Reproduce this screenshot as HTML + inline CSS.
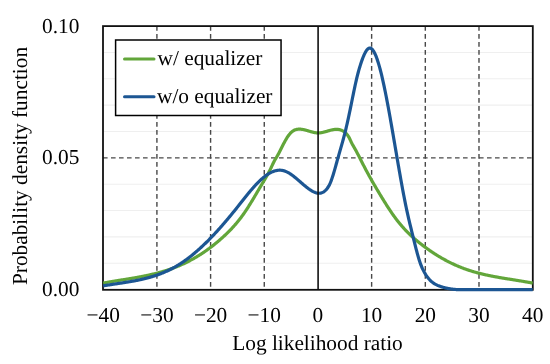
<!DOCTYPE html>
<html><head><meta charset="utf-8"><style>
html,body{margin:0;padding:0;background:#fff;}
body{width:550px;height:364px;overflow:hidden;}
svg{display:block;}
text{fill:#000;text-rendering:geometricPrecision;}
</style></head><body>
<svg width="550" height="364" viewBox="0 0 550 364"><line x1="103.0" y1="263.25" x2="532.8" y2="263.25" stroke="#efefef" stroke-width="1.1"/>
<line x1="103.0" y1="236.90" x2="532.8" y2="236.90" stroke="#efefef" stroke-width="1.1"/>
<line x1="103.0" y1="210.55" x2="532.8" y2="210.55" stroke="#efefef" stroke-width="1.1"/>
<line x1="103.0" y1="184.20" x2="532.8" y2="184.20" stroke="#efefef" stroke-width="1.1"/>
<line x1="103.0" y1="131.50" x2="532.8" y2="131.50" stroke="#efefef" stroke-width="1.1"/>
<line x1="103.0" y1="105.15" x2="532.8" y2="105.15" stroke="#efefef" stroke-width="1.1"/>
<line x1="103.0" y1="78.80" x2="532.8" y2="78.80" stroke="#efefef" stroke-width="1.1"/>
<line x1="103.0" y1="52.45" x2="532.8" y2="52.45" stroke="#efefef" stroke-width="1.1"/>
<line x1="156.91" y1="26.1" x2="156.91" y2="289.8" stroke="#484848" stroke-width="1.4" stroke-dasharray="4.6 3.4"/>
<line x1="210.59" y1="26.1" x2="210.59" y2="289.8" stroke="#484848" stroke-width="1.4" stroke-dasharray="4.6 3.4"/>
<line x1="264.27" y1="26.1" x2="264.27" y2="289.8" stroke="#484848" stroke-width="1.4" stroke-dasharray="4.6 3.4"/>
<line x1="371.63" y1="26.1" x2="371.63" y2="289.8" stroke="#484848" stroke-width="1.4" stroke-dasharray="4.6 3.4"/>
<line x1="425.31" y1="26.1" x2="425.31" y2="289.8" stroke="#484848" stroke-width="1.4" stroke-dasharray="4.6 3.4"/>
<line x1="478.99" y1="26.1" x2="478.99" y2="289.8" stroke="#484848" stroke-width="1.4" stroke-dasharray="4.6 3.4"/>
<line x1="103.0" y1="157.85" x2="532.8" y2="157.85" stroke="#484848" stroke-width="1.4" stroke-dasharray="4.6 3.4"/>
<rect x="103.0" y="26.1" width="429.80" height="263.70" fill="none" stroke="#111" stroke-width="1.8"/>
<path d="M103.2,283.10 L103.7,283.01 L104.2,282.92 L104.7,282.82 L105.2,282.73 L105.7,282.64 L106.2,282.55 L106.7,282.46 L107.2,282.37 L107.7,282.28 L108.2,282.19 L108.7,282.11 L109.2,282.02 L109.7,281.93 L110.2,281.85 L110.7,281.76 L111.2,281.68 L111.7,281.59 L112.2,281.51 L112.7,281.42 L113.2,281.34 L113.7,281.26 L114.2,281.17 L114.7,281.09 L115.2,281.01 L115.7,280.93 L116.2,280.84 L116.7,280.76 L117.2,280.68 L117.7,280.60 L118.2,280.52 L118.7,280.44 L119.2,280.36 L119.7,280.27 L120.2,280.19 L120.7,280.11 L121.2,280.03 L121.7,279.95 L122.2,279.87 L122.7,279.79 L123.2,279.71 L123.7,279.63 L124.2,279.55 L124.7,279.47 L125.2,279.39 L125.7,279.31 L126.2,279.23 L126.7,279.14 L127.2,279.06 L127.7,278.98 L128.2,278.90 L128.7,278.82 L129.2,278.73 L129.7,278.65 L130.2,278.57 L130.7,278.48 L131.2,278.40 L131.7,278.32 L132.2,278.23 L132.7,278.15 L133.2,278.06 L133.7,277.97 L134.2,277.89 L134.7,277.80 L135.2,277.71 L135.7,277.63 L136.2,277.54 L136.7,277.45 L137.2,277.36 L137.7,277.27 L138.2,277.18 L138.7,277.09 L139.2,276.99 L139.7,276.90 L140.2,276.81 L140.7,276.71 L141.2,276.62 L141.7,276.52 L142.2,276.43 L142.7,276.33 L143.2,276.23 L143.7,276.13 L144.2,276.03 L144.7,275.93 L145.2,275.83 L145.7,275.73 L146.2,275.62 L146.7,275.52 L147.2,275.41 L147.7,275.31 L148.2,275.20 L148.7,275.09 L149.2,274.98 L149.7,274.87 L150.2,274.76 L150.7,274.64 L151.2,274.53 L151.7,274.41 L152.2,274.30 L152.7,274.18 L153.2,274.06 L153.7,273.94 L154.2,273.82 L154.7,273.70 L155.2,273.57 L155.7,273.45 L156.2,273.32 L156.7,273.19 L157.2,273.06 L157.7,272.93 L158.2,272.80 L158.7,272.67 L159.2,272.53 L159.7,272.39 L160.2,272.26 L160.7,272.12 L161.2,271.97 L161.7,271.83 L162.2,271.69 L162.7,271.54 L163.2,271.39 L163.7,271.24 L164.2,271.09 L164.7,270.94 L165.2,270.79 L165.7,270.63 L166.2,270.47 L166.7,270.31 L167.2,270.15 L167.7,269.99 L168.2,269.82 L168.7,269.66 L169.2,269.49 L169.7,269.32 L170.2,269.15 L170.7,268.97 L171.2,268.79 L171.7,268.62 L172.2,268.44 L172.7,268.25 L173.2,268.07 L173.7,267.88 L174.2,267.69 L174.7,267.50 L175.2,267.31 L175.7,267.12 L176.2,266.92 L176.7,266.72 L177.2,266.52 L177.7,266.32 L178.2,266.11 L178.7,265.90 L179.2,265.69 L179.7,265.48 L180.2,265.27 L180.7,265.05 L181.2,264.83 L181.7,264.61 L182.2,264.39 L182.7,264.16 L183.2,263.93 L183.7,263.70 L184.2,263.47 L184.7,263.23 L185.2,262.99 L185.7,262.75 L186.2,262.51 L186.7,262.26 L187.2,262.01 L187.7,261.76 L188.2,261.51 L188.7,261.25 L189.2,260.99 L189.7,260.73 L190.2,260.46 L190.7,260.20 L191.2,259.93 L191.7,259.66 L192.2,259.38 L192.7,259.11 L193.2,258.83 L193.7,258.54 L194.2,258.26 L194.7,257.97 L195.2,257.68 L195.7,257.39 L196.2,257.09 L196.7,256.79 L197.2,256.49 L197.7,256.19 L198.2,255.88 L198.7,255.57 L199.2,255.26 L199.7,254.94 L200.2,254.63 L200.7,254.31 L201.2,253.98 L201.7,253.66 L202.2,253.33 L202.7,253.00 L203.2,252.66 L203.7,252.32 L204.2,251.98 L204.7,251.64 L205.2,251.30 L205.7,250.95 L206.2,250.60 L206.7,250.24 L207.2,249.88 L207.7,249.52 L208.2,249.16 L208.7,248.79 L209.2,248.43 L209.7,248.05 L210.2,247.68 L210.7,247.30 L211.2,246.92 L211.7,246.54 L212.2,246.15 L212.7,245.76 L213.2,245.37 L213.7,244.97 L214.2,244.57 L214.7,244.17 L215.2,243.77 L215.7,243.36 L216.2,242.95 L216.7,242.54 L217.2,242.12 L217.7,241.70 L218.2,241.28 L218.7,240.85 L219.2,240.42 L219.7,239.99 L220.2,239.55 L220.7,239.11 L221.2,238.67 L221.7,238.23 L222.2,237.78 L222.7,237.33 L223.2,236.87 L223.7,236.42 L224.2,235.96 L224.7,235.49 L225.2,235.02 L225.7,234.55 L226.2,234.07 L226.7,233.59 L227.2,233.11 L227.7,232.62 L228.2,232.13 L228.7,231.63 L229.2,231.13 L229.7,230.62 L230.2,230.11 L230.7,229.59 L231.2,229.07 L231.7,228.54 L232.2,228.00 L232.7,227.46 L233.2,226.91 L233.7,226.36 L234.2,225.80 L234.7,225.24 L235.2,224.66 L235.7,224.09 L236.2,223.50 L236.7,222.91 L237.2,222.31 L237.7,221.70 L238.2,221.09 L238.7,220.46 L239.2,219.83 L239.7,219.20 L240.2,218.55 L240.7,217.90 L241.2,217.23 L241.7,216.56 L242.2,215.88 L242.7,215.20 L243.2,214.50 L243.7,213.79 L244.2,213.08 L244.7,212.35 L245.2,211.62 L245.7,210.88 L246.2,210.12 L246.7,209.36 L247.2,208.60 L247.7,207.82 L248.2,207.04 L248.7,206.25 L249.2,205.45 L249.7,204.65 L250.2,203.84 L250.7,203.03 L251.2,202.21 L251.7,201.39 L252.2,200.56 L252.7,199.73 L253.2,198.90 L253.7,198.06 L254.2,197.22 L254.7,196.38 L255.2,195.54 L255.7,194.69 L256.2,193.85 L256.7,193.00 L257.2,192.15 L257.7,191.30 L258.2,190.46 L258.7,189.61 L259.2,188.77 L259.7,187.92 L260.2,187.08 L260.7,186.24 L261.2,185.41 L261.7,184.58 L262.2,183.75 L262.7,182.92 L263.2,182.09 L263.7,181.27 L264.2,180.44 L264.7,179.61 L265.2,178.77 L265.7,177.92 L266.2,177.06 L266.7,176.19 L267.2,175.31 L267.7,174.41 L268.2,173.49 L268.7,172.55 L269.2,171.60 L269.7,170.62 L270.2,169.61 L270.7,168.58 L271.2,167.52 L271.7,166.44 L272.2,165.36 L272.7,164.29 L273.2,163.23 L273.7,162.20 L274.2,161.22 L274.7,160.28 L275.2,159.41 L275.7,158.60 L276.2,157.81 L276.7,157.00 L277.2,156.15 L277.7,155.27 L278.2,154.36 L278.7,153.42 L279.2,152.47 L279.7,151.50 L280.2,150.52 L280.7,149.53 L281.2,148.53 L281.7,147.54 L282.2,146.54 L282.7,145.55 L283.2,144.57 L283.7,143.60 L284.2,142.65 L284.7,141.72 L285.2,140.82 L285.7,139.94 L286.2,139.09 L286.7,138.26 L287.2,137.47 L287.7,136.71 L288.2,135.99 L288.7,135.29 L289.2,134.64 L289.7,134.02 L290.2,133.44 L290.7,132.90 L291.2,132.41 L291.7,131.96 L292.2,131.54 L292.7,131.17 L293.2,130.83 L293.7,130.53 L294.2,130.26 L294.7,130.03 L295.2,129.83 L295.7,129.66 L296.2,129.51 L296.7,129.39 L297.2,129.30 L297.7,129.23 L298.2,129.18 L298.7,129.15 L299.2,129.13 L299.7,129.14 L300.2,129.16 L300.7,129.19 L301.2,129.24 L301.7,129.30 L302.2,129.37 L302.7,129.46 L303.2,129.55 L303.7,129.66 L304.2,129.77 L304.7,129.89 L305.2,130.01 L305.7,130.15 L306.2,130.28 L306.7,130.42 L307.2,130.57 L307.7,130.72 L308.2,130.87 L308.7,131.02 L309.2,131.17 L309.7,131.32 L310.2,131.47 L310.7,131.61 L311.2,131.76 L311.7,131.89 L312.2,132.03 L312.7,132.16 L313.2,132.28 L313.7,132.39 L314.2,132.50 L314.7,132.60 L315.2,132.68 L315.7,132.76 L316.2,132.82 L316.7,132.88 L317.2,132.92 L317.7,132.94 L318.2,132.95 L318.7,132.95 L319.2,132.92 L319.7,132.89 L320.2,132.84 L320.7,132.78 L321.2,132.70 L321.7,132.62 L322.2,132.52 L322.7,132.42 L323.2,132.30 L323.7,132.18 L324.2,132.05 L324.7,131.92 L325.2,131.78 L325.7,131.64 L326.2,131.49 L326.7,131.35 L327.2,131.20 L327.7,131.05 L328.2,130.90 L328.7,130.75 L329.2,130.61 L329.7,130.47 L330.2,130.33 L330.7,130.20 L331.2,130.07 L331.7,129.95 L332.2,129.84 L332.7,129.73 L333.2,129.64 L333.7,129.56 L334.2,129.48 L334.7,129.42 L335.2,129.37 L335.7,129.34 L336.2,129.32 L336.7,129.32 L337.2,129.33 L337.7,129.36 L338.2,129.41 L338.7,129.48 L339.2,129.57 L339.7,129.68 L340.2,129.81 L340.7,129.97 L341.2,130.14 L341.7,130.35 L342.2,130.58 L342.7,130.83 L343.2,131.11 L343.7,131.42 L344.2,131.76 L344.7,132.13 L345.2,132.54 L345.7,132.99 L346.2,133.48 L346.7,134.03 L347.2,134.64 L347.7,135.31 L348.2,136.06 L348.7,136.88 L349.2,137.78 L349.7,138.78 L350.2,139.85 L350.7,140.96 L351.2,142.03 L351.7,143.04 L352.2,143.99 L352.7,144.89 L353.2,145.77 L353.7,146.63 L354.2,147.49 L354.7,148.36 L355.2,149.24 L355.7,150.14 L356.2,151.06 L356.7,151.99 L357.2,152.93 L357.7,153.88 L358.2,154.84 L358.7,155.81 L359.2,156.78 L359.7,157.76 L360.2,158.74 L360.7,159.73 L361.2,160.72 L361.7,161.71 L362.2,162.69 L362.7,163.68 L363.2,164.66 L363.7,165.63 L364.2,166.60 L364.7,167.56 L365.2,168.52 L365.7,169.46 L366.2,170.40 L366.7,171.34 L367.2,172.26 L367.7,173.18 L368.2,174.10 L368.7,175.01 L369.2,175.91 L369.7,176.81 L370.2,177.70 L370.7,178.59 L371.2,179.48 L371.7,180.36 L372.2,181.23 L372.7,182.10 L373.2,182.97 L373.7,183.83 L374.2,184.69 L374.7,185.54 L375.2,186.40 L375.7,187.25 L376.2,188.09 L376.7,188.94 L377.2,189.78 L377.7,190.62 L378.2,191.45 L378.7,192.29 L379.2,193.12 L379.7,193.96 L380.2,194.79 L380.7,195.61 L381.2,196.44 L381.7,197.26 L382.2,198.08 L382.7,198.90 L383.2,199.71 L383.7,200.52 L384.2,201.33 L384.7,202.13 L385.2,202.93 L385.7,203.72 L386.2,204.51 L386.7,205.30 L387.2,206.08 L387.7,206.85 L388.2,207.62 L388.7,208.39 L389.2,209.15 L389.7,209.90 L390.2,210.65 L390.7,211.39 L391.2,212.13 L391.7,212.86 L392.2,213.58 L392.7,214.30 L393.2,215.01 L393.7,215.71 L394.2,216.41 L394.7,217.10 L395.2,217.78 L395.7,218.45 L396.2,219.11 L396.7,219.77 L397.2,220.42 L397.7,221.06 L398.2,221.69 L398.7,222.31 L399.2,222.93 L399.7,223.54 L400.2,224.14 L400.7,224.74 L401.2,225.32 L401.7,225.90 L402.2,226.48 L402.7,227.05 L403.2,227.61 L403.7,228.16 L404.2,228.71 L404.7,229.25 L405.2,229.78 L405.7,230.31 L406.2,230.83 L406.7,231.35 L407.2,231.86 L407.7,232.37 L408.2,232.86 L408.7,233.36 L409.2,233.85 L409.7,234.33 L410.2,234.81 L410.7,235.28 L411.2,235.75 L411.7,236.21 L412.2,236.67 L412.7,237.12 L413.2,237.57 L413.7,238.02 L414.2,238.46 L414.7,238.89 L415.2,239.32 L415.7,239.75 L416.2,240.17 L416.7,240.59 L417.2,241.01 L417.7,241.42 L418.2,241.83 L418.7,242.24 L419.2,242.64 L419.7,243.04 L420.2,243.44 L420.7,243.83 L421.2,244.22 L421.7,244.61 L422.2,244.99 L422.7,245.38 L423.2,245.76 L423.7,246.13 L424.2,246.51 L424.7,246.88 L425.2,247.25 L425.7,247.62 L426.2,247.98 L426.7,248.34 L427.2,248.70 L427.7,249.06 L428.2,249.42 L428.7,249.77 L429.2,250.12 L429.7,250.47 L430.2,250.81 L430.7,251.15 L431.2,251.49 L431.7,251.83 L432.2,252.16 L432.7,252.50 L433.2,252.83 L433.7,253.15 L434.2,253.48 L434.7,253.80 L435.2,254.12 L435.7,254.44 L436.2,254.75 L436.7,255.06 L437.2,255.38 L437.7,255.68 L438.2,255.99 L438.7,256.29 L439.2,256.59 L439.7,256.89 L440.2,257.19 L440.7,257.48 L441.2,257.77 L441.7,258.06 L442.2,258.34 L442.7,258.63 L443.2,258.91 L443.7,259.19 L444.2,259.46 L444.7,259.74 L445.2,260.01 L445.7,260.28 L446.2,260.55 L446.7,260.81 L447.2,261.07 L447.7,261.33 L448.2,261.59 L448.7,261.85 L449.2,262.10 L449.7,262.35 L450.2,262.60 L450.7,262.85 L451.2,263.09 L451.7,263.33 L452.2,263.57 L452.7,263.81 L453.2,264.04 L453.7,264.27 L454.2,264.50 L454.7,264.73 L455.2,264.96 L455.7,265.18 L456.2,265.40 L456.7,265.62 L457.2,265.84 L457.7,266.05 L458.2,266.26 L458.7,266.47 L459.2,266.68 L459.7,266.88 L460.2,267.09 L460.7,267.29 L461.2,267.49 L461.7,267.68 L462.2,267.88 L462.7,268.07 L463.2,268.26 L463.7,268.44 L464.2,268.63 L464.7,268.81 L465.2,268.99 L465.7,269.17 L466.2,269.35 L466.7,269.52 L467.2,269.70 L467.7,269.87 L468.2,270.04 L468.7,270.20 L469.2,270.37 L469.7,270.53 L470.2,270.69 L470.7,270.85 L471.2,271.00 L471.7,271.16 L472.2,271.31 L472.7,271.46 L473.2,271.61 L473.7,271.76 L474.2,271.91 L474.7,272.05 L475.2,272.19 L475.7,272.33 L476.2,272.47 L476.7,272.61 L477.2,272.75 L477.7,272.88 L478.2,273.01 L478.7,273.14 L479.2,273.27 L479.7,273.40 L480.2,273.53 L480.7,273.65 L481.2,273.78 L481.7,273.90 L482.2,274.02 L482.7,274.14 L483.2,274.26 L483.7,274.37 L484.2,274.49 L484.7,274.60 L485.2,274.72 L485.7,274.83 L486.2,274.94 L486.7,275.05 L487.2,275.16 L487.7,275.27 L488.2,275.37 L488.7,275.48 L489.2,275.58 L489.7,275.68 L490.2,275.78 L490.7,275.89 L491.2,275.99 L491.7,276.08 L492.2,276.18 L492.7,276.28 L493.2,276.38 L493.7,276.47 L494.2,276.56 L494.7,276.66 L495.2,276.75 L495.7,276.84 L496.2,276.93 L496.7,277.03 L497.2,277.12 L497.7,277.20 L498.2,277.29 L498.7,277.38 L499.2,277.47 L499.7,277.55 L500.2,277.64 L500.7,277.73 L501.2,277.81 L501.7,277.90 L502.2,277.98 L502.7,278.06 L503.2,278.15 L503.7,278.23 L504.2,278.31 L504.7,278.39 L505.2,278.48 L505.7,278.56 L506.2,278.64 L506.7,278.72 L507.2,278.80 L507.7,278.88 L508.2,278.96 L508.7,279.04 L509.2,279.12 L509.7,279.20 L510.2,279.28 L510.7,279.36 L511.2,279.44 L511.7,279.52 L512.2,279.60 L512.7,279.68 L513.2,279.75 L513.7,279.83 L514.2,279.91 L514.7,279.99 L515.2,280.07 L515.7,280.15 L516.2,280.23 L516.7,280.31 L517.2,280.39 L517.7,280.47 L518.2,280.55 L518.7,280.64 L519.2,280.72 L519.7,280.80 L520.2,280.88 L520.7,280.96 L521.2,281.05 L521.7,281.13 L522.2,281.21 L522.7,281.30 L523.2,281.38 L523.7,281.47 L524.2,281.55 L524.7,281.64 L525.2,281.72 L525.7,281.81 L526.2,281.90 L526.7,281.99 L527.2,282.08 L527.7,282.17 L528.2,282.26 L528.7,282.35 L529.2,282.44 L529.7,282.53 L530.2,282.63 L530.7,282.72 L531.2,282.82 L531.7,282.91 L532.2,283.01 L532.7,283.11" fill="none" stroke="#62a63a" stroke-width="3.2" stroke-linejoin="round"/>
<path d="M103.2,285.86 L103.7,285.77 L104.2,285.69 L104.7,285.60 L105.2,285.52 L105.7,285.44 L106.2,285.36 L106.7,285.28 L107.2,285.20 L107.7,285.12 L108.2,285.04 L108.7,284.96 L109.2,284.88 L109.7,284.80 L110.2,284.72 L110.7,284.65 L111.2,284.57 L111.7,284.49 L112.2,284.42 L112.7,284.34 L113.2,284.27 L113.7,284.19 L114.2,284.11 L114.7,284.04 L115.2,283.96 L115.7,283.89 L116.2,283.81 L116.7,283.74 L117.2,283.66 L117.7,283.59 L118.2,283.52 L118.7,283.44 L119.2,283.37 L119.7,283.29 L120.2,283.21 L120.7,283.14 L121.2,283.06 L121.7,282.99 L122.2,282.91 L122.7,282.83 L123.2,282.76 L123.7,282.68 L124.2,282.60 L124.7,282.52 L125.2,282.44 L125.7,282.36 L126.2,282.28 L126.7,282.20 L127.2,282.12 L127.7,282.04 L128.2,281.96 L128.7,281.87 L129.2,281.79 L129.7,281.70 L130.2,281.62 L130.7,281.53 L131.2,281.45 L131.7,281.36 L132.2,281.27 L132.7,281.18 L133.2,281.09 L133.7,281.00 L134.2,280.90 L134.7,280.81 L135.2,280.71 L135.7,280.62 L136.2,280.52 L136.7,280.42 L137.2,280.32 L137.7,280.22 L138.2,280.12 L138.7,280.01 L139.2,279.91 L139.7,279.80 L140.2,279.69 L140.7,279.58 L141.2,279.47 L141.7,279.36 L142.2,279.25 L142.7,279.13 L143.2,279.01 L143.7,278.90 L144.2,278.78 L144.7,278.65 L145.2,278.53 L145.7,278.41 L146.2,278.28 L146.7,278.15 L147.2,278.02 L147.7,277.89 L148.2,277.75 L148.7,277.61 L149.2,277.48 L149.7,277.34 L150.2,277.19 L150.7,277.05 L151.2,276.90 L151.7,276.75 L152.2,276.60 L152.7,276.45 L153.2,276.30 L153.7,276.14 L154.2,275.98 L154.7,275.82 L155.2,275.65 L155.7,275.49 L156.2,275.32 L156.7,275.15 L157.2,274.97 L157.7,274.80 L158.2,274.62 L158.7,274.44 L159.2,274.25 L159.7,274.07 L160.2,273.88 L160.7,273.68 L161.2,273.49 L161.7,273.29 L162.2,273.09 L162.7,272.89 L163.2,272.69 L163.7,272.48 L164.2,272.27 L164.7,272.05 L165.2,271.83 L165.7,271.61 L166.2,271.39 L166.7,271.17 L167.2,270.94 L167.7,270.70 L168.2,270.47 L168.7,270.23 L169.2,269.99 L169.7,269.75 L170.2,269.50 L170.7,269.25 L171.2,268.99 L171.7,268.73 L172.2,268.47 L172.7,268.21 L173.2,267.94 L173.7,267.67 L174.2,267.39 L174.7,267.12 L175.2,266.83 L175.7,266.55 L176.2,266.26 L176.7,265.97 L177.2,265.67 L177.7,265.37 L178.2,265.07 L178.7,264.76 L179.2,264.45 L179.7,264.13 L180.2,263.81 L180.7,263.49 L181.2,263.16 L181.7,262.83 L182.2,262.50 L182.7,262.16 L183.2,261.82 L183.7,261.48 L184.2,261.13 L184.7,260.78 L185.2,260.42 L185.7,260.06 L186.2,259.70 L186.7,259.33 L187.2,258.96 L187.7,258.59 L188.2,258.21 L188.7,257.83 L189.2,257.45 L189.7,257.06 L190.2,256.67 L190.7,256.28 L191.2,255.88 L191.7,255.48 L192.2,255.08 L192.7,254.67 L193.2,254.26 L193.7,253.85 L194.2,253.43 L194.7,253.01 L195.2,252.59 L195.7,252.16 L196.2,251.73 L196.7,251.30 L197.2,250.86 L197.7,250.42 L198.2,249.98 L198.7,249.54 L199.2,249.09 L199.7,248.64 L200.2,248.18 L200.7,247.73 L201.2,247.26 L201.7,246.80 L202.2,246.34 L202.7,245.87 L203.2,245.39 L203.7,244.92 L204.2,244.44 L204.7,243.96 L205.2,243.48 L205.7,242.99 L206.2,242.50 L206.7,242.01 L207.2,241.51 L207.7,241.01 L208.2,240.51 L208.7,240.01 L209.2,239.50 L209.7,239.00 L210.2,238.48 L210.7,237.97 L211.2,237.45 L211.7,236.93 L212.2,236.41 L212.7,235.89 L213.2,235.36 L213.7,234.83 L214.2,234.30 L214.7,233.76 L215.2,233.23 L215.7,232.69 L216.2,232.14 L216.7,231.60 L217.2,231.05 L217.7,230.50 L218.2,229.95 L218.7,229.40 L219.2,228.84 L219.7,228.28 L220.2,227.72 L220.7,227.16 L221.2,226.59 L221.7,226.02 L222.2,225.45 L222.7,224.88 L223.2,224.30 L223.7,223.73 L224.2,223.15 L224.7,222.57 L225.2,221.98 L225.7,221.40 L226.2,220.81 L226.7,220.22 L227.2,219.63 L227.7,219.03 L228.2,218.44 L228.7,217.84 L229.2,217.24 L229.7,216.64 L230.2,216.04 L230.7,215.43 L231.2,214.82 L231.7,214.21 L232.2,213.60 L232.7,212.99 L233.2,212.37 L233.7,211.75 L234.2,211.14 L234.7,210.51 L235.2,209.89 L235.7,209.27 L236.2,208.64 L236.7,208.01 L237.2,207.38 L237.7,206.75 L238.2,206.12 L238.7,205.49 L239.2,204.86 L239.7,204.22 L240.2,203.59 L240.7,202.96 L241.2,202.32 L241.7,201.69 L242.2,201.06 L242.7,200.43 L243.2,199.80 L243.7,199.17 L244.2,198.54 L244.7,197.91 L245.2,197.29 L245.7,196.66 L246.2,196.04 L246.7,195.43 L247.2,194.81 L247.7,194.20 L248.2,193.59 L248.7,192.98 L249.2,192.38 L249.7,191.78 L250.2,191.18 L250.7,190.59 L251.2,190.01 L251.7,189.42 L252.2,188.85 L252.7,188.27 L253.2,187.71 L253.7,187.14 L254.2,186.59 L254.7,186.03 L255.2,185.49 L255.7,184.95 L256.2,184.41 L256.7,183.89 L257.2,183.37 L257.7,182.85 L258.2,182.35 L258.7,181.85 L259.2,181.36 L259.7,180.88 L260.2,180.40 L260.7,179.93 L261.2,179.47 L261.7,179.02 L262.2,178.58 L262.7,178.15 L263.2,177.72 L263.7,177.31 L264.2,176.90 L264.7,176.51 L265.2,176.12 L265.7,175.75 L266.2,175.38 L266.7,175.03 L267.2,174.69 L267.7,174.35 L268.2,174.03 L268.7,173.72 L269.2,173.43 L269.7,173.14 L270.2,172.86 L270.7,172.60 L271.2,172.35 L271.7,172.12 L272.2,171.89 L272.7,171.68 L273.2,171.48 L273.7,171.30 L274.2,171.13 L274.7,170.97 L275.2,170.83 L275.7,170.70 L276.2,170.58 L276.7,170.48 L277.2,170.40 L277.7,170.33 L278.2,170.27 L278.7,170.23 L279.2,170.21 L279.7,170.20 L280.2,170.21 L280.7,170.24 L281.2,170.28 L281.7,170.33 L282.2,170.41 L282.7,170.50 L283.2,170.61 L283.7,170.74 L284.2,170.88 L284.7,171.04 L285.2,171.22 L285.7,171.42 L286.2,171.63 L286.7,171.86 L287.2,172.10 L287.7,172.35 L288.2,172.62 L288.7,172.91 L289.2,173.20 L289.7,173.51 L290.2,173.83 L290.7,174.16 L291.2,174.50 L291.7,174.85 L292.2,175.21 L292.7,175.58 L293.2,175.96 L293.7,176.35 L294.2,176.74 L294.7,177.14 L295.2,177.54 L295.7,177.96 L296.2,178.37 L296.7,178.79 L297.2,179.22 L297.7,179.64 L298.2,180.08 L298.7,180.51 L299.2,180.94 L299.7,181.38 L300.2,181.82 L300.7,182.25 L301.2,182.69 L301.7,183.13 L302.2,183.56 L302.7,183.99 L303.2,184.42 L303.7,184.85 L304.2,185.27 L304.7,185.69 L305.2,186.10 L305.7,186.51 L306.2,186.91 L306.7,187.31 L307.2,187.70 L307.7,188.08 L308.2,188.45 L308.7,188.82 L309.2,189.17 L309.7,189.52 L310.2,189.85 L310.7,190.18 L311.2,190.49 L311.7,190.79 L312.2,191.08 L312.7,191.36 L313.2,191.62 L313.7,191.87 L314.2,192.10 L314.7,192.31 L315.2,192.51 L315.7,192.68 L316.2,192.84 L316.7,192.97 L317.2,193.07 L317.7,193.16 L318.2,193.22 L318.7,193.25 L319.2,193.25 L319.7,193.22 L320.2,193.16 L320.7,193.08 L321.2,192.95 L321.7,192.80 L322.2,192.61 L322.7,192.38 L323.2,192.12 L323.7,191.82 L324.2,191.47 L324.7,191.09 L325.2,190.66 L325.7,190.19 L326.2,189.67 L326.7,189.10 L327.2,188.46 L327.7,187.76 L328.2,186.99 L328.7,186.14 L329.2,185.22 L329.7,184.20 L330.2,183.10 L330.7,181.90 L331.2,180.61 L331.7,179.23 L332.2,177.77 L332.7,176.25 L333.2,174.66 L333.7,173.02 L334.2,171.33 L334.7,169.61 L335.2,167.85 L335.7,166.08 L336.2,164.28 L336.7,162.48 L337.2,160.69 L337.7,158.90 L338.2,157.13 L338.7,155.37 L339.2,153.63 L339.7,151.89 L340.2,150.16 L340.7,148.42 L341.2,146.67 L341.7,144.91 L342.2,143.13 L342.7,141.33 L343.2,139.50 L343.7,137.64 L344.2,135.74 L344.7,133.80 L345.2,131.80 L345.7,129.76 L346.2,127.66 L346.7,125.51 L347.2,123.32 L347.7,121.08 L348.2,118.81 L348.7,116.50 L349.2,114.15 L349.7,111.77 L350.2,109.36 L350.7,106.93 L351.2,104.48 L351.7,102.01 L352.2,99.53 L352.7,97.05 L353.2,94.58 L353.7,92.14 L354.2,89.72 L354.7,87.34 L355.2,85.01 L355.7,82.74 L356.2,80.54 L356.7,78.41 L357.2,76.36 L357.7,74.40 L358.2,72.50 L358.7,70.68 L359.2,68.93 L359.7,67.24 L360.2,65.61 L360.7,64.04 L361.2,62.52 L361.7,61.06 L362.2,59.65 L362.7,58.30 L363.2,57.02 L363.7,55.81 L364.2,54.67 L364.7,53.61 L365.2,52.62 L365.7,51.72 L366.2,50.91 L366.7,50.20 L367.2,49.57 L367.7,49.05 L368.2,48.64 L368.7,48.33 L369.2,48.13 L369.7,48.05 L370.2,48.08 L370.7,48.23 L371.2,48.49 L371.7,48.85 L372.2,49.33 L372.7,49.90 L373.2,50.58 L373.7,51.36 L374.2,52.23 L374.7,53.20 L375.2,54.27 L375.7,55.42 L376.2,56.66 L376.7,57.99 L377.2,59.40 L377.7,60.89 L378.2,62.46 L378.7,64.11 L379.2,65.83 L379.7,67.63 L380.2,69.49 L380.7,71.43 L381.2,73.43 L381.7,75.49 L382.2,77.62 L382.7,79.80 L383.2,82.04 L383.7,84.33 L384.2,86.68 L384.7,89.08 L385.2,91.52 L385.7,94.01 L386.2,96.54 L386.7,99.12 L387.2,101.73 L387.7,104.38 L388.2,107.06 L388.7,109.78 L389.2,112.52 L389.7,115.30 L390.2,118.09 L390.7,120.92 L391.2,123.76 L391.7,126.62 L392.2,129.49 L392.7,132.38 L393.2,135.29 L393.7,138.20 L394.2,141.12 L394.7,144.04 L395.2,146.97 L395.7,149.89 L396.2,152.82 L396.7,155.74 L397.2,158.66 L397.7,161.56 L398.2,164.46 L398.7,167.34 L399.2,170.21 L399.7,173.06 L400.2,175.89 L400.7,178.70 L401.2,181.48 L401.7,184.24 L402.2,186.97 L402.7,189.67 L403.2,192.33 L403.7,194.96 L404.2,197.55 L404.7,200.10 L405.2,202.61 L405.7,205.08 L406.2,207.50 L406.7,209.86 L407.2,212.18 L407.7,214.45 L408.2,216.67 L408.7,218.84 L409.2,220.97 L409.7,223.08 L410.2,225.15 L410.7,227.20 L411.2,229.24 L411.7,231.26 L412.2,233.28 L412.7,235.29 L413.2,237.30 L413.7,239.32 L414.2,241.35 L414.7,243.36 L415.2,245.36 L415.7,247.34 L416.2,249.29 L416.7,251.21 L417.2,253.08 L417.7,254.90 L418.2,256.66 L418.7,258.36 L419.2,259.98 L419.7,261.53 L420.2,262.99 L420.7,264.36 L421.2,265.65 L421.7,266.87 L422.2,268.02 L422.7,269.11 L423.2,270.13 L423.7,271.10 L424.2,272.03 L424.7,272.91 L425.2,273.75 L425.7,274.55 L426.2,275.32 L426.7,276.05 L427.2,276.75 L427.7,277.41 L428.2,278.05 L428.7,278.65 L429.2,279.22 L429.7,279.77 L430.2,280.28 L430.7,280.77 L431.2,281.24 L431.7,281.68 L432.2,282.09 L432.7,282.49 L433.2,282.86 L433.7,283.21 L434.2,283.54 L434.7,283.85 L435.2,284.15 L435.7,284.43 L436.2,284.69 L436.7,284.94 L437.2,285.17 L437.7,285.40 L438.2,285.61 L438.7,285.81 L439.2,286.00 L439.7,286.19 L440.2,286.36 L440.7,286.53 L441.2,286.70 L441.7,286.86 L442.2,287.01 L442.7,287.16 L443.2,287.30 L443.7,287.44 L444.2,287.58 L444.7,287.71 L445.2,287.83 L445.7,287.95 L446.2,288.07 L446.7,288.18 L447.2,288.28 L447.7,288.39 L448.2,288.49 L448.7,288.58 L449.2,288.67 L449.7,288.76 L450.2,288.84 L450.7,288.92 L451.2,288.99 L451.7,289.06 L452.2,289.13 L452.7,289.19 L453.2,289.25 L453.7,289.31 L454.2,289.36 L454.7,289.41 L455.2,289.46 L455.7,289.50 L456.2,289.54 L456.7,289.58 L457.2,289.60 L457.7,289.60 L458.2,289.60 L458.7,289.60 L459.2,289.60 L459.7,289.60 L460.2,289.60 L460.7,289.60 L461.2,289.60 L461.7,289.60 L462.2,289.60 L462.7,289.60 L463.2,289.60 L463.7,289.60 L464.2,289.60 L464.7,289.60 L465.2,289.60 L465.7,289.60 L466.2,289.60 L466.7,289.60 L467.2,289.60 L467.7,289.60 L468.2,289.60 L468.7,289.60 L469.2,289.60 L469.7,289.60 L470.2,289.60 L470.7,289.60 L471.2,289.60 L471.7,289.60 L472.2,289.60 L472.7,289.60 L473.2,289.60 L473.7,289.60 L474.2,289.60 L474.7,289.60 L475.2,289.60 L475.7,289.60 L476.2,289.60 L476.7,289.60 L477.2,289.60 L477.7,289.60 L478.2,289.60 L478.7,289.60 L479.2,289.60 L479.7,289.60 L480.2,289.60 L480.7,289.60 L481.2,289.60 L481.7,289.60 L482.2,289.60 L482.7,289.60 L483.2,289.60 L483.7,289.60 L484.2,289.60 L484.7,289.60 L485.2,289.60 L485.7,289.60 L486.2,289.60 L486.7,289.60 L487.2,289.60 L487.7,289.60 L488.2,289.60 L488.7,289.60 L489.2,289.60 L489.7,289.60 L490.2,289.60 L490.7,289.60 L491.2,289.60 L491.7,289.60 L492.2,289.60 L492.7,289.60 L493.2,289.60 L493.7,289.60 L494.2,289.60 L494.7,289.60 L495.2,289.60 L495.7,289.60 L496.2,289.60 L496.7,289.60 L497.2,289.60 L497.7,289.60 L498.2,289.60 L498.7,289.60 L499.2,289.60 L499.7,289.60 L500.2,289.60 L500.7,289.60 L501.2,289.60 L501.7,289.60 L502.2,289.60 L502.7,289.60 L503.2,289.60 L503.7,289.60 L504.2,289.60 L504.7,289.60 L505.2,289.60 L505.7,289.60 L506.2,289.60 L506.7,289.60 L507.2,289.60 L507.7,289.60 L508.2,289.60 L508.7,289.60 L509.2,289.60 L509.7,289.60 L510.2,289.60 L510.7,289.60 L511.2,289.60 L511.7,289.60 L512.2,289.60 L512.7,289.60 L513.2,289.60 L513.7,289.60 L514.2,289.60 L514.7,289.60 L515.2,289.60 L515.7,289.60 L516.2,289.60 L516.7,289.60 L517.2,289.60 L517.7,289.60 L518.2,289.60 L518.7,289.60 L519.2,289.60 L519.7,289.60 L520.2,289.60 L520.7,289.60 L521.2,289.60 L521.7,289.60 L522.2,289.60 L522.7,289.60 L523.2,289.60 L523.7,289.60 L524.2,289.60 L524.7,289.60 L525.2,289.60 L525.7,289.60 L526.2,289.60 L526.7,289.60 L527.2,289.60 L527.7,289.60 L528.2,289.60 L528.7,289.60 L529.2,289.60 L529.7,289.60 L530.2,289.60 L530.7,289.60 L531.2,289.60 L531.7,289.60 L532.2,289.60 L532.7,289.60" fill="none" stroke="#1c5693" stroke-width="3.2" stroke-linejoin="round"/>
<line x1="318.10" y1="26.1" x2="318.10" y2="289.8" stroke="#111" stroke-width="1.6"/>
<rect x="115.6" y="40.0" width="165.45" height="75.5" fill="#fff" stroke="#000" stroke-width="1.5"/>
<line x1="124.5" y1="59" x2="154" y2="59" stroke="#62a63a" stroke-width="3" stroke-linecap="round"/>
<line x1="124.5" y1="96.8" x2="154" y2="96.8" stroke="#1c5693" stroke-width="3" stroke-linecap="round"/>
<text x="157.5" y="65.2" font-family="&quot;Liberation Serif&quot;, serif" font-size="21.33">w/ equalizer</text>
<text x="157" y="103.3" font-family="&quot;Liberation Serif&quot;, serif" font-size="21.33">w/o equalizer</text>
<text x="79.3" y="32.70" font-family="&quot;Liberation Serif&quot;, serif" font-size="21.33" text-anchor="end">0.10</text>
<text x="79.3" y="164.45" font-family="&quot;Liberation Serif&quot;, serif" font-size="21.33" text-anchor="end">0.05</text>
<text x="79.3" y="296.20" font-family="&quot;Liberation Serif&quot;, serif" font-size="21.33" text-anchor="end">0.00</text>
<text x="103.23" y="322.3" font-family="&quot;Liberation Serif&quot;, serif" font-size="21.33" text-anchor="middle">−40</text>
<text x="156.91" y="322.3" font-family="&quot;Liberation Serif&quot;, serif" font-size="21.33" text-anchor="middle">−30</text>
<text x="210.59" y="322.3" font-family="&quot;Liberation Serif&quot;, serif" font-size="21.33" text-anchor="middle">−20</text>
<text x="264.27" y="322.3" font-family="&quot;Liberation Serif&quot;, serif" font-size="21.33" text-anchor="middle">−10</text>
<text x="317.95" y="322.3" font-family="&quot;Liberation Serif&quot;, serif" font-size="21.33" text-anchor="middle">0</text>
<text x="371.63" y="322.3" font-family="&quot;Liberation Serif&quot;, serif" font-size="21.33" text-anchor="middle">10</text>
<text x="425.31" y="322.3" font-family="&quot;Liberation Serif&quot;, serif" font-size="21.33" text-anchor="middle">20</text>
<text x="478.99" y="322.3" font-family="&quot;Liberation Serif&quot;, serif" font-size="21.33" text-anchor="middle">30</text>
<text x="532.67" y="322.3" font-family="&quot;Liberation Serif&quot;, serif" font-size="21.33" text-anchor="middle">40</text>
<text x="317.5" y="350.1" font-family="&quot;Liberation Serif&quot;, serif" font-size="21.33" text-anchor="middle">Log likelihood ratio</text>
<text transform="translate(27.3,166) rotate(-90)" font-family="&quot;Liberation Serif&quot;, serif" font-size="21.33" text-anchor="middle">Probability density function</text></svg>
</body></html>
